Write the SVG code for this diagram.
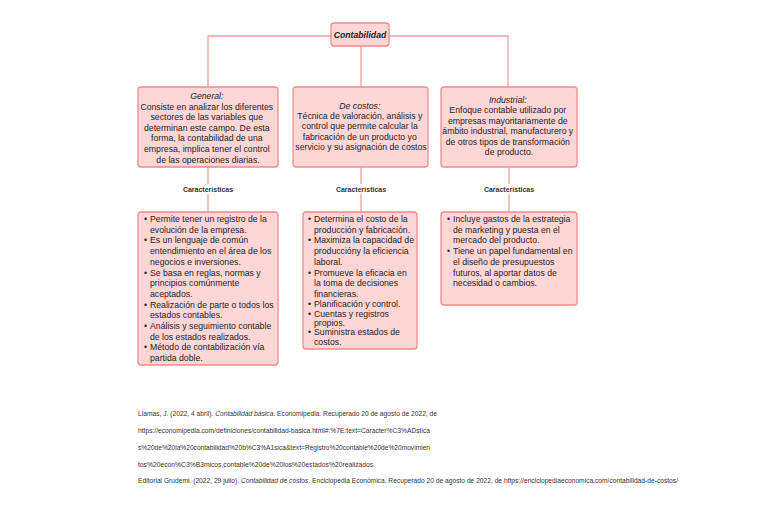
<svg xmlns="http://www.w3.org/2000/svg" width="768" height="514" viewBox="0 0 768 514">
<style>
.box{fill:#ffd6d6;stroke:#f28b8b;stroke-width:1.3}
.ln{stroke:#f5a0a0;stroke-width:1.3;fill:none}
.t{font-family:"Liberation Sans",Arial,sans-serif;font-size:8.7px;fill:#222}
.c{text-anchor:middle}
.i{font-style:italic}
.h{font-family:"Liberation Sans",Arial,sans-serif;font-size:7px;font-weight:bold;fill:#333;text-anchor:middle}
.r{font-family:"Liberation Sans",Arial,sans-serif;font-size:6.6px;fill:#333}
</style>
<rect width="768" height="514" fill="#fff"/>
<g id="connectors">
<path class="ln" d="M331 36H208V87M389 36H508V87M361 46V87"/>
<path class="ln" d="M208 167V212M361 167V212M509 167V212"/>
</g>
<g id="contabilidad">
<rect class="box" x="331" y="23" width="58" height="23" rx="3"/>
<text class="t c i" x="360" y="37.5" font-weight="bold" font-size="9">Contabilidad</text>
</g>
<g id="general">
<rect class="box" x="138" y="87" width="140" height="80" rx="3"/>
<text class="t c" x="208" y="99"><tspan class="i">General:</tspan>
<tspan x="208" dy="10.6">Consiste en analizar los diferentes</tspan>
<tspan x="208" dy="10.6">sectores de las variables que</tspan>
<tspan x="208" dy="10.6">determinan este campo. De esta</tspan>
<tspan x="208" dy="10.6">forma, la contabilidad de una</tspan>
<tspan x="208" dy="10.6">empresa, implica tener el control</tspan>
<tspan x="208" dy="10.6">de las operaciones diarias.</tspan></text>
</g>
<g id="costos">
<rect class="box" x="293" y="87" width="135" height="80" rx="3"/>
<text class="t c" x="361" y="109"><tspan class="i">De costos:</tspan>
<tspan x="361" dy="10.2">Técnica de valoración, análisis y</tspan>
<tspan x="361" dy="10.2">control que permite calcular la</tspan>
<tspan x="361" dy="10.2">fabricación de un producto yo</tspan>
<tspan x="361" dy="10.2">servicio y su asignación de costos</tspan></text>
</g>
<g id="industrial">
<rect class="box" x="441" y="87" width="136" height="80" rx="3"/>
<text class="t c" x="509" y="103"><tspan class="i">Industrial:</tspan>
<tspan x="509" dy="10.4">Enfoque contable utilizado por</tspan>
<tspan x="509" dy="10.4">empresas mayoritariamente de</tspan>
<tspan x="509" dy="10.4">ámbito industrial, manufacturero y</tspan>
<tspan x="509" dy="10.4">de otros tipos de transformación</tspan>
<tspan x="509" dy="10.4">de producto.</tspan></text>
</g>
<g id="carac-general"><rect x="180" y="184" width="56" height="10" fill="#fff"/><text class="h" x="208" y="191.5">Características</text></g>
<g id="carac-costos"><rect x="333" y="184" width="56" height="10" fill="#fff"/><text class="h" x="361" y="191.5">Características</text></g>
<g id="carac-industrial"><rect x="481" y="184" width="56" height="10" fill="#fff"/><text class="h" x="509" y="191.5">Características</text></g>
<g id="lista-general">
<rect class="box" x="138" y="212" width="140" height="153" rx="3"/>
<text class="t" x="144" y="222">•<tspan x="150">Permite tener un registro de la</tspan>
<tspan x="150" dy="10.7">evolución de la empresa.</tspan>
<tspan x="144" dy="10.7">•</tspan><tspan x="150">Es un lenguaje de común</tspan>
<tspan x="150" dy="10.7">entendimiento en el área de los</tspan>
<tspan x="150" dy="10.7">negocios e inversiones.</tspan>
<tspan x="144" dy="10.7">•</tspan><tspan x="150">Se basa en reglas, normas y</tspan>
<tspan x="150" dy="10.7">principios comúnmente</tspan>
<tspan x="150" dy="10.7">aceptados.</tspan>
<tspan x="144" dy="10.7">•</tspan><tspan x="150">Realización de parte o todos los</tspan>
<tspan x="150" dy="10.7">estados contables.</tspan>
<tspan x="144" dy="10.7">•</tspan><tspan x="150">Análisis y seguimiento contable</tspan>
<tspan x="150" dy="10.7">de los estados realizados.</tspan>
<tspan x="144" dy="10.7">•</tspan><tspan x="150">Método de contabilización vía</tspan>
<tspan x="150" dy="10.7">partida doble.</tspan></text>
</g>
<g id="lista-costos">
<rect class="box" x="303" y="212" width="114" height="137" rx="3"/>
<text class="t" x="308" y="222">•<tspan x="314">Determina el costo de la</tspan>
<tspan x="314" dy="10.7">producción y fabricación.</tspan>
<tspan x="308" dy="10.7">•</tspan><tspan x="314">Maximiza la capacidad de</tspan>
<tspan x="314" dy="10.7">produccióny la eficiencia</tspan>
<tspan x="314" dy="10.7">laboral.</tspan>
<tspan x="308" dy="10.7">•</tspan><tspan x="314">Promueve la eficacia en</tspan>
<tspan x="314" dy="10.7">la toma de decisiones</tspan>
<tspan x="314" dy="10.7">financieras.</tspan>
<tspan x="308" dy="10.3">•</tspan><tspan x="314">Planificación y control.</tspan>
<tspan x="308" dy="9.3">•</tspan><tspan x="314">Cuentas y registros</tspan>
<tspan x="314" dy="9.3">propios.</tspan>
<tspan x="308" dy="9.3">•</tspan><tspan x="314">Suministra estados de</tspan>
<tspan x="314" dy="9.6">costos.</tspan></text>
</g>
<g id="lista-industrial">
<rect class="box" x="441" y="212" width="136" height="93" rx="3"/>
<text class="t" x="447" y="222">•<tspan x="453">Incluye gastos de la estrategia</tspan>
<tspan x="453" dy="10.7">de marketing y puesta en el</tspan>
<tspan x="453" dy="10.7">mercado del producto.</tspan>
<tspan x="447" dy="10.7">•</tspan><tspan x="453">Tiene un papel fundamental en</tspan>
<tspan x="453" dy="10.7">el diseño de presupuestos</tspan>
<tspan x="453" dy="10.7">futuros, al aportar datos de</tspan>
<tspan x="453" dy="10.7">necesidad o cambios.</tspan></text>
</g>
<g id="referencias">
<text class="r" x="138" y="416" textLength="299" lengthAdjust="spacingAndGlyphs">Llamas, J. (2022, 4 abril). <tspan font-style="italic">Contabilidad básica</tspan>. Economipedia. Recuperado 20 de agosto de 2022, de</text>
<text class="r" x="138" y="433" textLength="292" lengthAdjust="spacingAndGlyphs">https://economipedia.com/definiciones/contabilidad-basica.html#:%7E:text=Caracter%C3%ADstica</text>
<text class="r" x="138" y="450" textLength="292" lengthAdjust="spacingAndGlyphs">s%20de%20la%20contabilidad%20b%C3%A1sica&amp;text=Registro%20contable%20de%20movimien</text>
<text class="r" x="138" y="467" textLength="237" lengthAdjust="spacingAndGlyphs">tos%20econ%C3%B3micos,contable%20de%20los%20estados%20realizados.</text>
<text class="r" x="138" y="483" textLength="540" lengthAdjust="spacingAndGlyphs">Editorial Grudemi. (2022, 29 julio). <tspan font-style="italic">Contabilidad de costos</tspan>. Enciclopedia Económica. Recuperado 20 de agosto de 2022, de https://enciclopediaeconomica.com/contabilidad-de-costos/</text>
</g>
</svg>
